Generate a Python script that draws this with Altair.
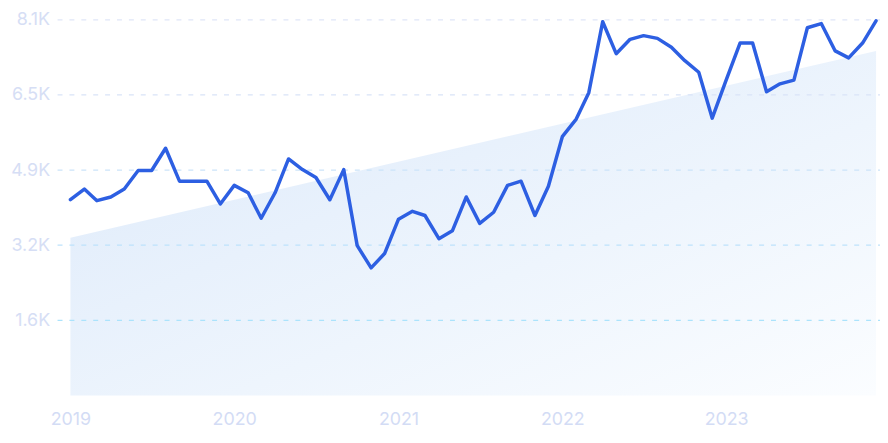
import altair as alt
import pandas as pd

# Monthly series, Jan 2019 .. Dec 2023
months = pd.date_range("2019-01-01", "2023-12-01", freq="MS").strftime("%Y-%m-%d").tolist()
values = [
    4220, 4450, 4200, 4280, 4450, 4850, 4850, 5330, 4620, 4620, 4620, 4130,
    4530, 4370, 3820, 4370, 5100, 4870, 4700, 4220, 4870, 3230, 2750, 3060,
    3800, 3970, 3880, 3380, 3550, 4280, 3710, 3950, 4530, 4620, 3880, 4510,
    5580, 5960, 6530, 8060, 7370, 7680, 7760, 7700, 7510, 7220, 6970, 5980,
    6800, 7600, 7600, 6550, 6720, 6800, 7930, 8020, 7430, 7280, 7600, 8080,
]

# Trend band (two end points)
trend_dates = ["2019-01-01", "2023-12-01"]
trend_values = [3400, 7430]

# Y ticks / gridlines
y_ticks = [1620, 3240, 4860, 6480, 8100]
grid_colors = ["#abe3fc", "#bde2fb", "#cbe3f9", "#d9e3f8", "#dfe6f8"]
year_ticks = [2019, 2020, 2021, 2022, 2023]

W, H = 813, 379

df = pd.DataFrame({"date": months, "value": values})
tdf = pd.DataFrame({"date": trend_dates, "value": trend_values})
gdf = pd.DataFrame({"y": y_ticks, "color": grid_colors})

xscale = alt.Scale(type="utc", domain=[months[0], months[-1]], nice=False)
yscale = alt.Scale(domain=[0, 8100], nice=False, zero=True)

xaxis = alt.Axis(
    values=[alt.DateTime(year=y, month=1, date=1, utc=True) for y in year_ticks],
    format="%Y", formatType="utc", title=None, domain=False, ticks=False, grid=False,
    labelColor="#d3dcf5", labelFontSize=18, labelFont="Inter", labelPadding=15,
    labelFlush=False,
)
yaxis = alt.Axis(
    values=y_ticks, labelExpr="format(datum.value/1000, '.1f') + 'K'",
    title=None, domain=False, ticks=False, grid=False,
    labelColor="#d6def5", labelFontSize=18, labelFont="Inter", labelPadding=21,
    labelFlush=False,
)

area = alt.Chart(tdf).mark_area(
    color=alt.Gradient(
        gradient="linear", x1=0, y1=0, x2=1, y2=1,
        stops=[alt.GradientStop(color="#dce9fa", offset=0),
               alt.GradientStop(color="#eef5fd", offset=0.6),
               alt.GradientStop(color="#fbfdff", offset=1)],
    ),
).encode(
    x=alt.X("date:T", scale=xscale, axis=xaxis),
    y=alt.Y("value:Q", scale=yscale, axis=yaxis),
)

grid = alt.Chart(gdf).mark_rule(strokeDash=[5, 7], strokeWidth=1.2).encode(
    y=alt.Y("y:Q", scale=yscale),
    x=alt.value(-13),
    x2=alt.value(W + 4),
    color=alt.Color("color:N", scale=None),
)

line = alt.Chart(df).mark_line(
    color="#2d5fe2", strokeWidth=3.5, strokeJoin="round", strokeCap="round"
).encode(
    x=alt.X("date:T", scale=xscale),
    y=alt.Y("value:Q", scale=yscale),
)

chart = alt.layer(area, grid, line).properties(
    width=W, height=H,
    autosize=alt.AutoSizeParams(type="none"),
    padding={"left": 63, "top": 10, "right": 4, "bottom": 38},
).configure(background="white", view=alt.ViewConfig(stroke=None))

chart.save("out.html", embed_options={"renderer": "svg", "actions": False})
